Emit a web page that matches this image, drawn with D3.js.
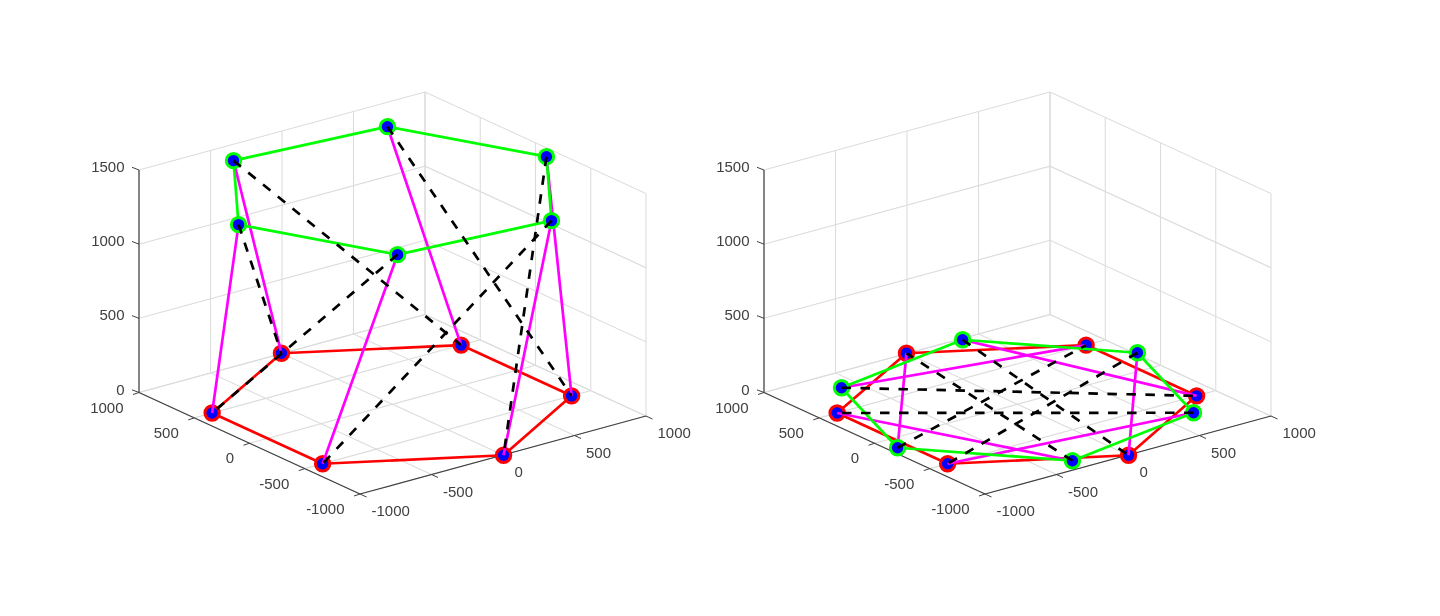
<!DOCTYPE html>
<html>
<head>
<meta charset="utf-8">
<script src="https://cdn.jsdelivr.net/npm/d3@7"></script>
<style>
body { margin: 0; background: #fff; }
text { font-family: "Liberation Sans", Arial, sans-serif; font-size: 15px; fill: #404040; }
</style>
</head>
<body>
<svg class="plots"></svg>
<script>
// Axis ticks
var xTicks = [-1000, -500, 0, 500, 1000];
var yTicks = [-1000, -500, 0, 500, 1000];
var zTicks = [0, 500, 1000, 1500];

// Lower hexagon, same in both plots
var baseX = [0, 866, 866, 0, -875, -875];
var baseY = [1005, 500, -500, -1005, -500, 500];
var baseZ = [0, 0, 0, 0, 0, 0];

// Upper hexagon, left plot
var topLeftX = [-411, 589, 1000, 411, -589, -1000];
var topLeftY = [907, 808, -99, -907, -808, 99];
var topLeftZ = [1440, 1440, 1440, 1440, 1440, 1440];

// Upper hexagon, right plot
var topRightX = [-980, -653, 337, 980, 653, -337];
var topRightY = [-183, 748, 933, 183, -748, -933];
var topRightZ = [27, 27, 27, 27, 27, 27];

// Total dimensions
var w = 1440,
    h = 616;

var svg = d3.select(".plots")
    .attr("width", w)
    .attr("height", h);

// The reference is a little soft, like a scaled up figure
svg.append("filter").attr("id", "soft")
    .attr("x", 0).attr("y", 0)
    .attr("filterUnits", "userSpaceOnUse")
    .attr("width", w).attr("height", h)
    .append("feGaussianBlur").attr("stdDeviation", 0.35);

var page = svg.append("g").attr("filter", "url(#soft)");

// Where the axes box falls on the page
var corner = { x: 360, y: 494 },
    xEdge = { x: 286, y: -78 },
    yEdge = { x: -221, y: -101.5 },
    zEdge = { x: 0, y: -222.5 };

var xScale = d3.scaleLinear().domain([-1000, 1000]).range([0, 1]),
    yScale = d3.scaleLinear().domain([-1000, 1000]).range([0, 1]),
    zScale = d3.scaleLinear().domain([0, 1500]).range([0, 1]);

var project = function(x, y, z) {
    var u = xScale(x), v = yScale(y), t = zScale(z);
    return [
        corner.x + u * xEdge.x + v * yEdge.x + t * zEdge.x,
        corner.y + u * xEdge.y + v * yEdge.y + t * zEdge.y
    ];
};

var points = function(xs, ys, zs) {
    return xs.map(function(d, i) { return project(d, ys[i], zs[i]); });
};

var line = d3.line();

var drawPlot = function(dx, topX, topY, topZ) {
    var g = page.append("g").attr("transform", "translate(" + dx + ",0)");
    var xmin = xScale.domain()[0], xmax = xScale.domain()[1],
        ymin = yScale.domain()[0], ymax = yScale.domain()[1],
        zmax = zScale.domain()[1];

    // grid on the floor and the two back walls
    var grid = [];
    xTicks.forEach(function(d) {
        grid.push([project(d, ymin, 0), project(d, ymax, 0), project(d, ymax, zmax)]);
    });
    yTicks.forEach(function(d) {
        grid.push([project(xmin, d, 0), project(xmax, d, 0), project(xmax, d, zmax)]);
    });
    zTicks.forEach(function(d) {
        grid.push([project(xmin, ymax, d), project(xmax, ymax, d), project(xmax, ymin, d)]);
    });
    g.append("g").selectAll("path").data(grid).enter().append("path")
        .attr("d", line)
        .attr("fill", "none")
        .attr("stroke", "#dcdcdc")
        .attr("stroke-width", 1.1);

    // axis lines
    var axes = [
        [project(xmin, ymin, 0), project(xmax, ymin, 0)],
        [project(xmin, ymin, 0), project(xmin, ymax, 0)],
        [project(xmin, ymax, 0), project(xmin, ymax, zmax)]
    ];
    g.append("g").selectAll("path").data(axes).enter().append("path")
        .attr("d", line)
        .attr("stroke", "#404040")
        .attr("stroke-width", 1.2);

    // ticks and labels
    var xt = g.append("g").selectAll("g").data(xTicks).enter().append("g")
        .attr("transform", function(d) { return "translate(" + project(d, ymin, 0) + ")"; });
    xt.append("line").attr("x2", 6.5).attr("y2", 3).attr("stroke", "#404040");
    xt.append("text").attr("x", 11.5).attr("y", 22).text(function(d) { return d; });

    var yt = g.append("g").selectAll("g").data(yTicks).enter().append("g")
        .attr("transform", function(d) { return "translate(" + project(xmin, d, 0) + ")"; });
    yt.append("line").attr("x2", -6).attr("y2", 2).attr("stroke", "#404040");
    yt.append("text").attr("x", -15.5).attr("y", 20).attr("text-anchor", "end").text(function(d) { return d; });

    var zt = g.append("g").selectAll("g").data(zTicks).enter().append("g")
        .attr("transform", function(d) { return "translate(" + project(xmin, ymax, d) + ")"; });
    zt.append("line").attr("x2", -7).attr("y2", -2.7).attr("stroke", "#404040");
    zt.append("text").attr("x", -14.5).attr("y", 2).attr("text-anchor", "end").text(function(d) { return d; });

    var base = points(baseX, baseY, baseZ),
        top = points(topX, topY, topZ);

    var markers = function(data, color) {
        g.append("g").selectAll("circle").data(data).enter().append("circle")
            .attr("cx", function(d) { return d[0]; })
            .attr("cy", function(d) { return d[1]; })
            .attr("r", 7.2)
            .attr("fill", "#0000ff")
            .attr("stroke", color)
            .attr("stroke-width", 3);
    };

    var links = function(data, color, dash) {
        g.append("g").selectAll("path").data(data).enter().append("path")
            .attr("d", line)
            .attr("fill", "none")
            .attr("stroke", color)
            .attr("stroke-width", 2.7)
            .attr("stroke-dasharray", dash);
    };

    var ring = function(data) {
        return data.map(function(d, i) { return [d, data[(i + 1) % data.length]]; });
    };

    // stacking order
    links(ring(base), "#ff0000", null);
    markers(base, "#ff0000");
    links(top.map(function(d, i) { return [d, base[i]]; }), "#ff00ff", null);
    links(ring(top), "#00ff00", null);
    markers(top, "#00ff00");
    // each upper point also goes to the next lower point, dashed
    links(top.map(function(d, i) { return [d, base[(i + 1) % base.length]]; }), "#000000", "9.5 9.5");
};

drawPlot(0, topLeftX, topLeftY, topLeftZ);
drawPlot(625, topRightX, topRightY, topRightZ);
</script>
</body>
</html>
